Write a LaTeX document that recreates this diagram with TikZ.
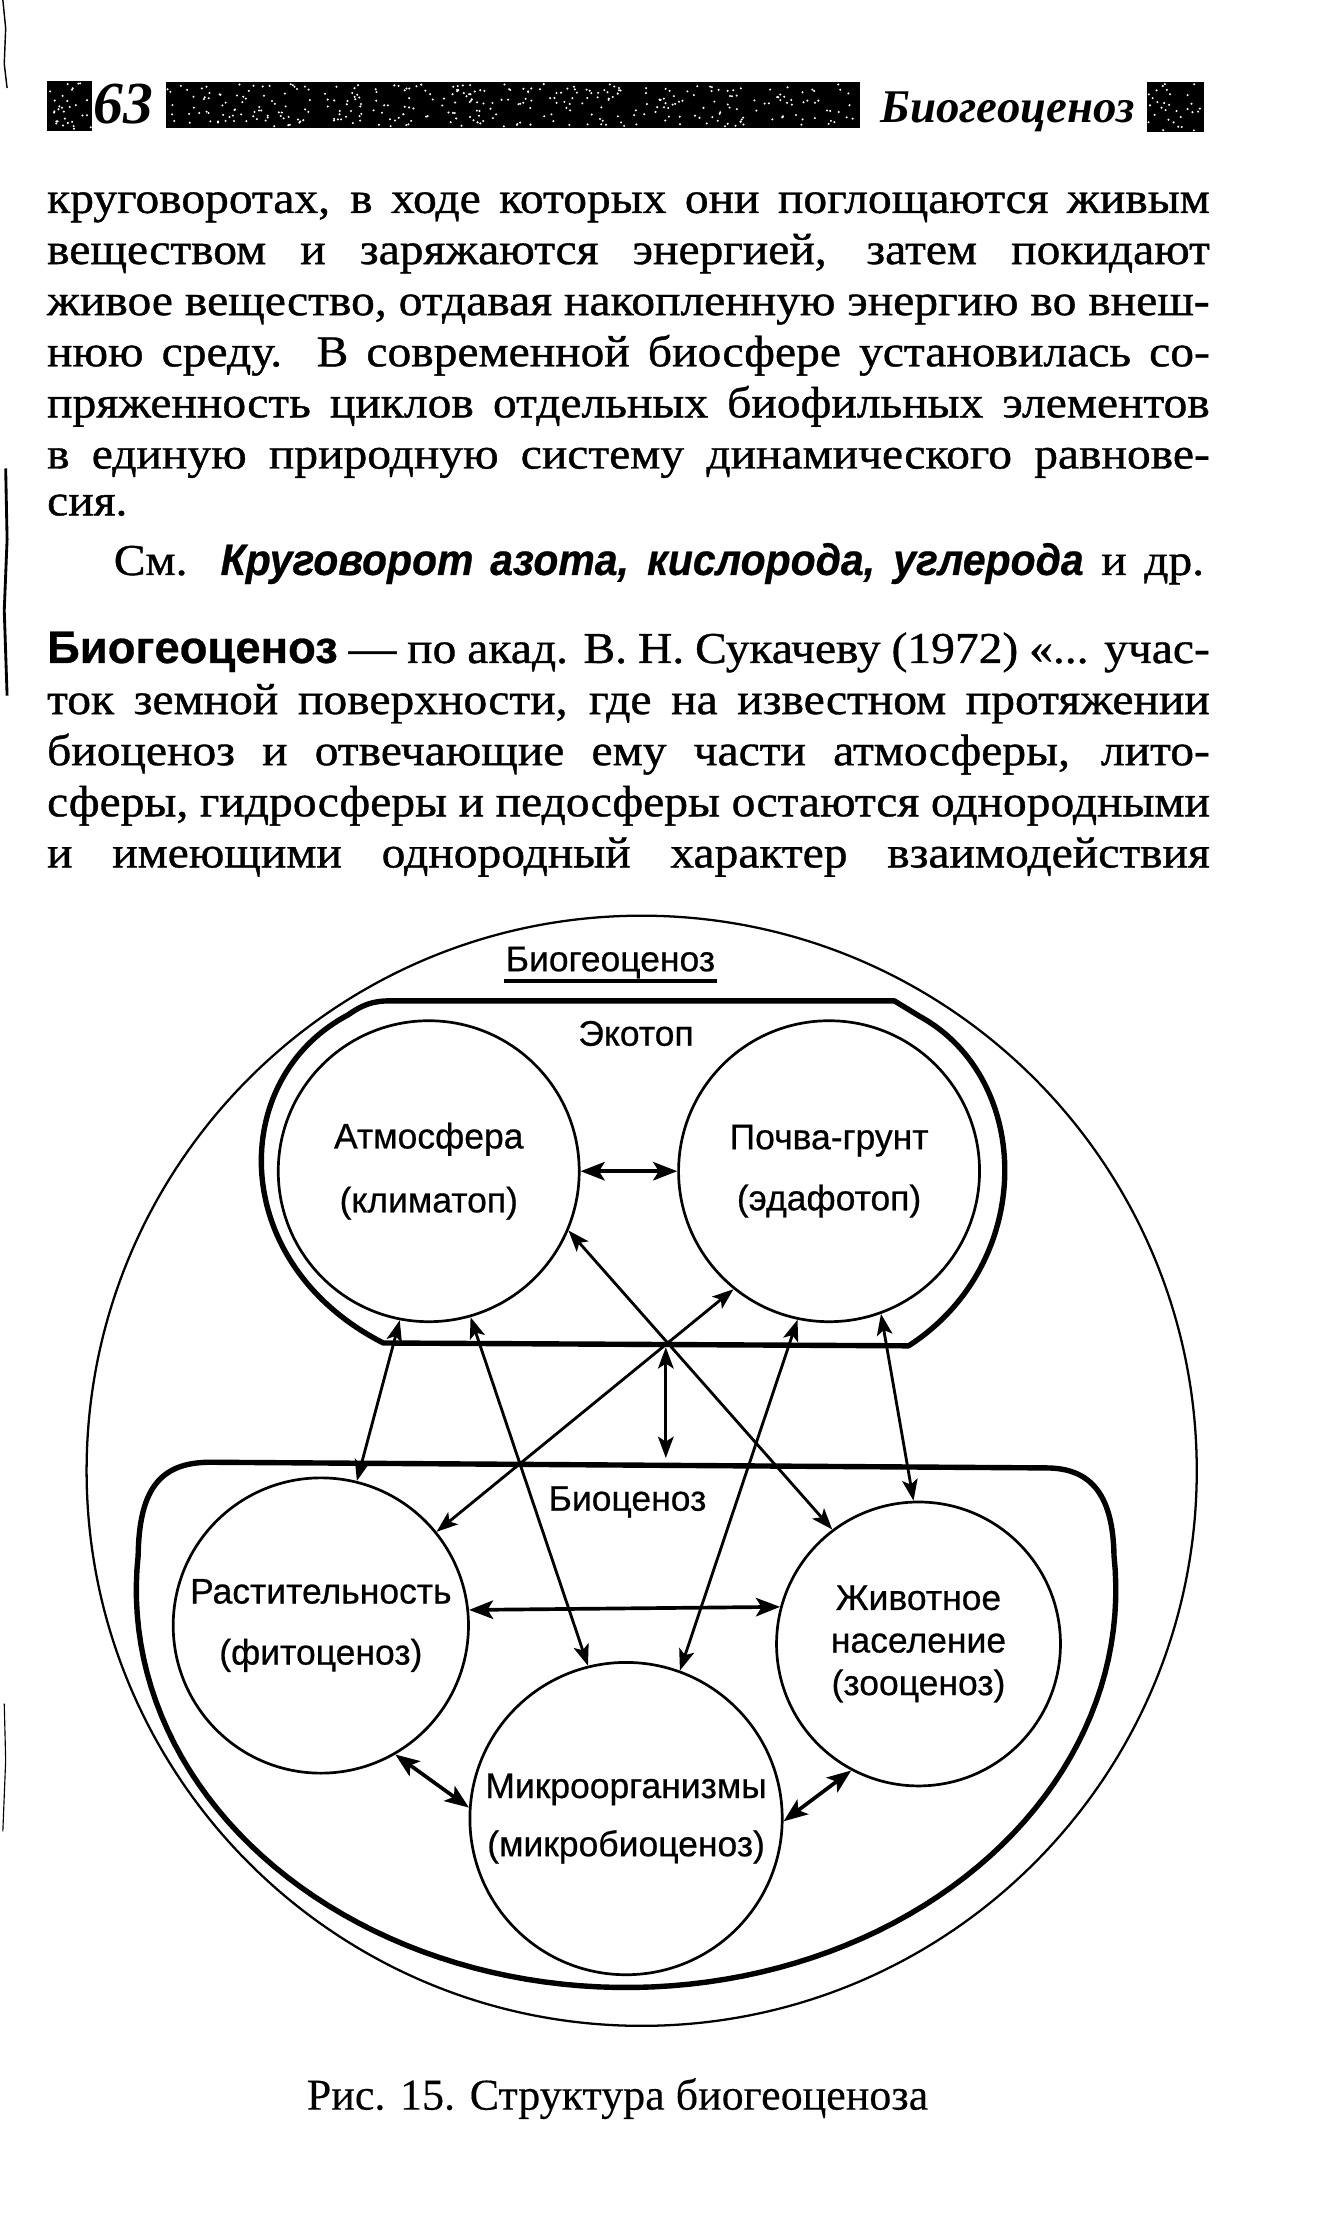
\documentclass[tikz,border=0pt]{standalone}
\usepackage{fontspec}
\setmainfont{Liberation Serif}
\newfontfamily\bodyfont{Liberation Serif}[FakeStretch=1.08, FakeBold=0.9]
\newfontfamily\capfont{Liberation Serif}[FakeBold=0.3]
\newfontfamily\diagfont{Liberation Sans}[FakeBold=0.6]
\newfontfamily\sanscond{Liberation Sans}[FakeStretch=0.93, FakeBold=0.6]
\newfontfamily\sansbold{Liberation Sans}[FakeBold=0.6]
\usetikzlibrary{arrows.meta}
\tikzset{
  txtline/.style={anchor=base west, inner sep=0pt, font=\bodyfont\fontsize{31}{36}\selectfont},
  circ/.style={circle, draw, line width=1.9pt, inner sep=0pt, align=center, font=\diagfont\fontsize{25}{30}\selectfont},
  lbl/.style={inner sep=0pt, font=\diagfont\fontsize{25}{30}\selectfont},
  arr/.style={{Stealth[length=15pt,width=11pt,inset=3.5pt]}-{Stealth[length=15pt,width=11pt,inset=3.5pt]}, line width=2pt},
  arrthick/.style={{Stealth[length=17pt,width=13pt,inset=4pt]}-{Stealth[length=17pt,width=13pt,inset=4pt]}, line width=2.6pt},
  bound/.style={line width=3.8pt, line join=round},
  blk/.style={fill=black}
}
\begin{document}
\begin{tikzpicture}[x=1pt,y=-1pt]
\useasboundingbox (0,0) rectangle (946,1568);
\fill[white] (0,0) rectangle (946,1568);
% scan artifacts at left edge
\draw[line width=1pt] (2,0) -- (4,20) -- (3,45) -- (5,62);
\draw[line width=2pt] (4,330) -- (5,380) -- (3,430) -- (5,490);
\draw[line width=0.8pt] (3,1200) -- (4,1240) -- (2,1290);
% header
\fill[blk] (33,57) rectangle (65,92);
\node[anchor=base west, inner sep=0pt, font=\fontsize{42}{46}\selectfont\bfseries\itshape] (pg) at (66,87) {63};
\fill[blk] (117,58) rectangle (606,90);
\pgfmathsetseed{7}
\foreach \i in {1,...,350}{
  \pgfmathsetmacro\rx{118+486*rnd}
  \pgfmathsetmacro\ry{59+30*rnd}
  \fill[white] (\rx,\ry) circle (0.8);
}
\fill[blk] (808,58) rectangle (848,93);
\foreach \i in {1,...,30}{
  \pgfmathsetmacro\rx{34+30*rnd}
  \pgfmathsetmacro\ry{58+33*rnd}
  \fill[white] (\rx,\ry) circle (0.8);
  \pgfmathsetmacro\sx{809+38*rnd}
  \pgfmathsetmacro\sy{59+33*rnd}
  \fill[white] (\sx,\sy) circle (0.8);
}
\node[anchor=base west, inner sep=0pt, font=\fontsize{33}{40}\selectfont\bfseries\itshape] (hd) at (620,86) {Биогеоценоз};
% paragraph 1
\node[txtline] (l1) at (33,150) {\makebox[819pt][s]{круговоротах, в ходе которых они поглощаются живым}};
\node[txtline] (l2) at (33,186) {\makebox[819pt][s]{веществом и заряжаются энергией, затем покидают}};
\node[txtline] (l3) at (33,222) {\makebox[819pt][s]{живое вещество, отдавая накопленную энергию во внеш-}};
\node[txtline] (l4) at (33,258) {\makebox[819pt][s]{нюю среду. В современной биосфере установилась со-}};
\node[txtline] (l5) at (33,294) {\makebox[819pt][s]{пряженность циклов отдельных биофильных элементов}};
\node[txtline] (l6) at (33,330) {\makebox[819pt][s]{в единую природную систему динамического равнове-}};
\node[txtline] (l7) at (33,363) {сия.};
\node[txtline] (l8) at (80,405) {\makebox[768pt][s]{См. {\sanscond\bfseries\itshape Круговорот азота, кислорода, углерода} и др.}};
% paragraph 2
\node[txtline] (m1) at (33,467) {\makebox[819pt][s]{{\sansbold\fontsize{32}{36}\selectfont\bfseries Биогеоценоз} — по акад. В. Н. Сукачеву (1972) «... учас-}};
\node[txtline] (m2) at (33,503) {\makebox[819pt][s]{ток земной поверхности, где на известном протяжении}};
\node[txtline] (m3) at (33,539) {\makebox[819pt][s]{биоценоз и отвечающие ему части атмосферы, лито-}};
\node[txtline] (m4) at (33,575) {\makebox[819pt][s]{сферы, гидросферы и педосферы остаются однородными}};
\node[txtline] (m5) at (33,611) {\makebox[819pt][s]{и имеющими однородный характер взаимодействия}};
% diagram
\draw[line width=1.6pt] (452,1036) circle[radius=391];
\node[lbl] (bgc) at (430,678) {Биогеоценоз};
\draw[line width=2.8pt] (355,691) -- (505,691);
% ecotope boundary
\draw[bound] (275,705) -- (630,705) -- (648,716)
  .. controls (728,760) and (730,890) .. (640,948) -- (270,946)
  .. controls (160,890) and (160,760) .. (245,715)
  .. controls (255,708) and (262,705) .. (275,705) -- cycle;
\node[lbl] (eko) at (448,728) {Экотоп};
% biocenosis boundary
\draw[bound] (148,1030) -- (737,1034) .. controls (770,1034) and (784,1055) .. (784.7,1095.6)
  -- plot[domain=-5:185, samples=90] ({441+345*cos(\x)}, {1120+280*sin(\x)})
  .. controls (98,1050) and (112,1030) .. (148,1030) -- cycle;
\node[lbl] (bio) at (442,1058) {Биоценоз};
% circles
\node[circ, minimum size=212pt] (atm) at (302,825) {Атмосфера\\[15pt](климатоп)};
\node[circ, minimum size=212pt] (poch) at (584,825) {Почва-грунт\\[13pt](эдафотоп)};
\node[circ, minimum size=208pt] (rast) at (226,1145) {Растительность\\[13pt](фитоценоз)};
\node[circ, minimum size=200pt] (zoo) at (647,1158) {Животное\\население\\(зооценоз)};
\node[circ, minimum size=220pt] (mic) at (441,1281) {Микроорганизмы\\[11pt](микробиоценоз)};
% connectors
\coordinate (v1) at (469,949);
\coordinate (v2) at (469,1027);
\draw[arrthick] (atm.east) -- (poch.west);
\draw[arr] (atm.259) -- (rast.76);
\draw[arr] (atm.286.5) -- (mic.104.6);
\draw[arr] (atm.337.7) -- (zoo.127.6);
\draw[arr] (poch.231.8) -- (rast.39.6);
\draw[arr] (v1) -- (v2);
\draw[arr] (poch.258.2) -- (mic.70.8);
\draw[arr] (poch.290.8) -- (zoo.92.8);
\draw[arrthick] (rast.6.6) -- (zoo.165.5);
\draw[arrthick] (rast.300) -- (mic.176.9);
\draw[arrthick] (mic.-1) -- (zoo.242.9);
% caption
\node[anchor=base, inner sep=0pt, font=\capfont\fontsize{31}{36}\selectfont] (cap) at (435,1486) {Рис. 15. Структура биогеоценоза};
\end{tikzpicture}
\end{document}
